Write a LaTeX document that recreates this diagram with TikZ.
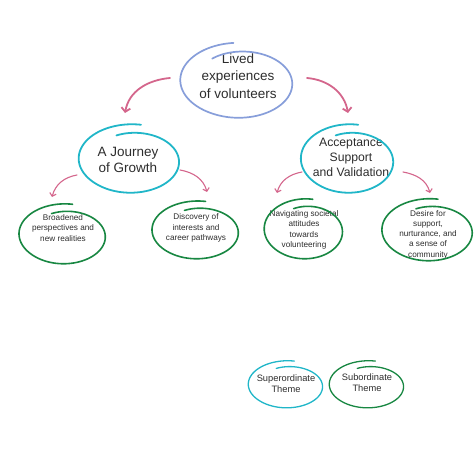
\documentclass[tikz,border=0pt]{standalone}
\usepackage{fontspec}
\setmainfont{Liberation Sans}
\usetikzlibrary{arrows.meta,calc}
\definecolor{loopblue}{RGB}{135,158,218}
\definecolor{loopcyan}{RGB}{32,182,200}
\definecolor{loopgreen}{RGB}{24,135,66}
\definecolor{arrpink}{RGB}{212,102,140}
\definecolor{txt}{RGB}{45,45,45}
\pgfmathdeclarefunction{skf}{1}{\pgfmathparse{1-0.15*(1-#1)^4+0.15*(3*(max(0,(#1-0.6)/0.4))^2-2*(max(0,(#1-0.6)/0.4))^3)}}
\newcommand\sketchloop[7]{% cx cy rx ry colour start width
  \draw[#5, line width=#7, line cap=round]
    plot[domain=#6:#6-390, samples=110, smooth, variable=\t]
    ({#1+#3*skf((#6-\t)/390)*cos(\t)},{#2+#4*skf((#6-\t)/390)*sin(\t)});}
\tikzset{
  theme/.style={text=txt, align=center, inner sep=0pt},
  toptxt/.style={theme, font=\fontsize{13.5}{17.5}\selectfont},
  suptxt/.style={theme, font=\fontsize{13.5}{16.5}\selectfont},
  acctxt/.style={theme, font=\fontsize{12.2}{15}\selectfont},
  subtxt/.style={theme, font=\fontsize{8.2}{10.3}\selectfont},
  legtxt/.style={theme, font=\fontsize{9.3}{11}\selectfont},
  bigarr/.style={arrpink, line width=1.8pt, line cap=round, -{Straight Barb[length=4pt,width=9pt]}},
  smallarr/.style={arrpink, line width=1.1pt, line cap=round, -{Straight Barb[length=3pt,width=6.5pt]}},
}
\begin{document}
\begin{tikzpicture}[x=1pt,y=1pt]
\useasboundingbox (0,0) rectangle (474,-457);
% texts
\node[toptxt] (top) at (238,-76) {Lived\\experiences\\of volunteers};
\node[suptxt] (jg) at (128,-160) {A Journey\\of Growth};
\node[acctxt] (acc) at (351,-157) {Acceptance\\Support\\and Validation};
\node[subtxt] (br) at (63,-228) {Broadened\\perspectives and\\new realities};
\node[subtxt] (di) at (196,-228) {Discovery of\\interests and\\career pathways};
\node[subtxt] (nav) at (304,-230) {Navigating societal\\attitudes\\towards\\volunteering};
\node[subtxt] (de) at (428,-234.5) {Desire for\\support,\\nurturance, and\\a sense of\\community};
\node[legtxt] (lsup) at (286,-383.5) {Superordinate\\Theme};
\node[legtxt] (lsub) at (367,-383) {Subordinate\\Theme};
% loops
\sketchloop{239}{-83}{55}{35}{loopblue}{125}{1.7pt}
\sketchloop{131}{-161}{50}{32}{loopcyan}{110}{1.8pt}
\sketchloop{349}{-161}{46}{32}{loopcyan}{110}{1.8pt}
\sketchloop{64}{-236}{43}{28}{loopgreen}{110}{1.6pt}
\sketchloop{197}{-232}{43}{27}{loopgreen}{110}{1.6pt}
\sketchloop{305}{-231}{39}{28}{loopgreen}{110}{1.6pt}
\sketchloop{429}{-232}{45}{29}{loopgreen}{110}{1.6pt}
\sketchloop{287}{-386}{37}{22}{loopcyan}{110}{1.3pt}
\sketchloop{368}{-386}{37}{22}{loopgreen}{110}{1.3pt}
% arrows
\draw[bigarr] ($(top)+(-68,-2)$) to[out=185,in=80] ($(jg)+(-3,47)$);
\draw[bigarr] ($(top)+(69,-2)$) to[out=-5,in=100] ($(acc)+(-3,44)$);
\draw[smallarr] ($(jg)+(-51,-15)$) to[out=190,in=75] ($(br)+(-11,31)$);
\draw[smallarr] ($(jg)+(52,-10)$) to[out=-10,in=105] ($(di)+(11,36)$);
\draw[smallarr] ($(acc)+(-49,-15)$) to[out=190,in=75] ($(nav)+(-27,37)$);
\draw[smallarr] ($(acc)+(52,-15)$) to[out=-10,in=105] ($(de)+(2,41.5)$);
\end{tikzpicture}
\end{document}
